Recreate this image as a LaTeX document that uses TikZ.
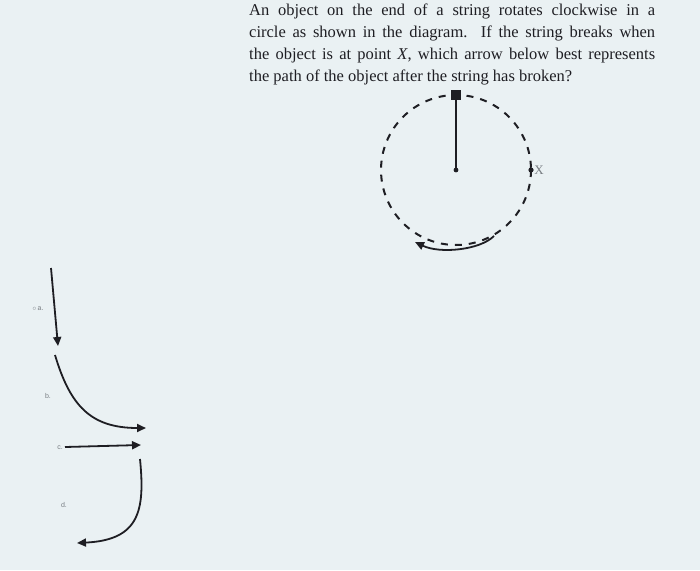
\documentclass[tikz,border=0pt]{standalone}
\usepackage{fontspec}
\setmainfont{Liberation Serif}
\setsansfont{Liberation Sans}
\usetikzlibrary{arrows.meta}
\definecolor{paper}{RGB}{234,241,243}
\definecolor{ink}{RGB}{30,30,35}
\definecolor{optgray}{RGB}{120,125,130}

\begin{document}
\begin{tikzpicture}
[
    x=1pt, y=-1pt,
    question/.style={anchor=north west, inner sep=0pt, text width=406pt, align=justify, font=\fontsize{16.5}{22}\selectfont, text=ink},
    path line/.style={draw=ink, line width=1.8pt},
    choice arrow/.style={path line, -{Triangle[length=9pt, width=8pt]}},
    choice label/.style={font=\sffamily\fontsize{7}{8}\selectfont, text=optgray, inner sep=1pt},
    orbit/.style={draw=ink, line width=2pt, dash pattern=on 7pt off 7pt},
]
\fill[paper] (0,0) rectangle (700,570);
\useasboundingbox (0,0) rectangle (700,570);

% question text
\node [question] (q) at (249,4)
{An object on the end of a string rotates clockwise in a\linebreak circle as shown in the diagram. If the string breaks when\linebreak the object is at point \textit{X}, which arrow below best represents\linebreak the path of the object after the string has broken?};

% circle with string
\coordinate (c) at (456,170);
\draw [orbit] (c) circle [radius=75];
\node [draw=ink, fill=ink, minimum size=9pt, inner sep=0pt] (mass) at (456,95) {};
\fill [ink] (c) circle [radius=2.4pt];
\draw [path line] (mass) -- (c);
\fill [ink] (531,170) coordinate (xpt) circle [radius=2.6pt];
\node [anchor=west, font=\fontsize{13}{13}\selectfont, text=optgray, inner sep=1pt] (xlab) at (xpt) {\,X};
\coordinate (rot start) at (494,236);
\coordinate (rot end) at (415,242);
\draw [choice arrow] (rot start) .. controls (480,250) and (440,254) .. (rot end);

% answer choices
\node [choice label] (la) at (38,309) {$\circ$\,a.};
\node [choice label] (lb) at (48,396) {b.};
\node [choice label] (lc) at (60,448) {c.};
\node [choice label] (ld) at (64,505) {d.};

\coordinate (a0) at (51,268);
\coordinate (a1) at (58,346);
\draw [choice arrow] (a0) -- (a1);

\coordinate (b0) at (55,355);
\coordinate (b1) at (146,428);
\draw [choice arrow] (b0) .. controls (70,405) and (90,428) .. (b1);

\coordinate (c0) at (65,447);
\coordinate (c1) at (141,445);
\draw [choice arrow] (c0) -- (c1);

\coordinate (d0) at (140,459);
\coordinate (d1) at (77,543);
\draw [choice arrow] (d0) .. controls (145,510) and (140,540) .. (d1);
\end{tikzpicture}
\end{document}
